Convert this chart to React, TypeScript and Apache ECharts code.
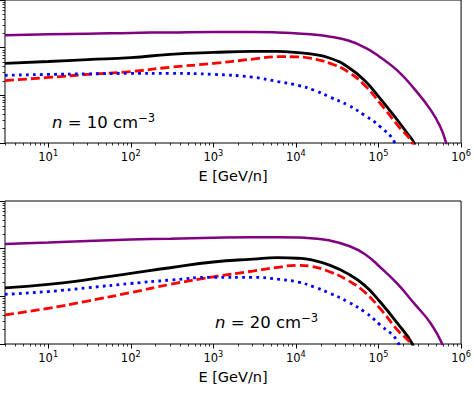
import React, { useEffect, useRef } from "react";
import * as echarts from "echarts";

// Energy range [GeV/n] and relative (arbitrary-unit) y range, log axes
const xMin = 3;
const xMax = 1e6;
const yMin = 1;
const yMax = 1000;
const xMajorTicks = [10, 100, 1000, 10000, 100000, 1000000];
const yMajorTicks = [1, 10, 100, 1000];

// Upper panel, n = 10 cm^-3  ([E, value])
const topPurple: [number, number][] = [
  [3, 182], [10, 192], [30, 195], [100, 204], [300, 209], [1000, 214], [3000, 214], [6000, 209],
  [10500, 199], [15000, 191], [26000, 170], [43000, 141], [68000, 101], [105000, 63], [170000, 33],
  [270000, 13.8], [430000, 4.9], [560000, 2.19], [660000, 1.0], [740000, 0.4],
];
const topBlack: [number, number][] = [
  [3, 46.8], [10, 51.3], [30, 56.2], [100, 61.7], [300, 72.4], [1000, 79.4], [3000, 83.2],
  [6000, 83.2], [10500, 79], [15000, 74], [26000, 60], [43000, 38.9], [68000, 20.4], [105000, 8.5],
  [170000, 3.0], [224000, 1.58], [270000, 1.0], [300000, 0.5],
];
const topRed: [number, number][] = [
  [3, 20.4], [10, 23.7], [30, 27.5], [100, 31.6], [300, 38.9], [1000, 46.8], [3000, 57.5],
  [6000, 64.6], [10500, 64], [15000, 60], [26000, 46.8], [43000, 30.9], [68000, 16.2],
  [105000, 6.76], [170000, 2.37], [257000, 1.0], [285000, 0.5],
];
const topBlue: [number, number][] = [
  [3, 26.3], [10, 27.5], [30, 28.2], [100, 28.8], [300, 28.8], [1000, 27.5], [3000, 24.0],
  [6000, 19.5], [10500, 16.2], [17000, 12.6], [26000, 9.1], [43000, 6.2], [68000, 3.8],
  [105000, 2.19], [155000, 1.07], [175000, 0.5],
];

// Lower panel, n = 20 cm^-3
const botPurple: [number, number][] = [
  [3, 126], [10, 135], [30, 145], [100, 155], [300, 162], [1000, 170], [3000, 174], [6000, 174],
  [10500, 172], [15000, 166], [26000, 148], [43000, 115], [68000, 77.6], [105000, 40.7],
  [170000, 18.2], [270000, 7.1], [430000, 2.7], [590000, 1.0], [660000, 0.5],
];
const botBlack: [number, number][] = [
  [3, 15.1], [10, 17.8], [30, 22.4], [100, 30.2], [300, 39.8], [1000, 52.5], [3000, 60.3],
  [6000, 64.6], [10500, 63], [15000, 58.9], [26000, 44.7], [43000, 29.5], [68000, 17],
  [105000, 7.6], [170000, 2.7], [257000, 1.0], [285000, 0.5],
];
const botRed: [number, number][] = [
  [3, 4.07], [10, 5.62], [30, 7.94], [100, 12.0], [300, 17.8], [1000, 25.7], [3000, 33.9],
  [6000, 40.7], [10500, 44.7], [15000, 42.7], [26000, 32.4], [43000, 21.4], [68000, 12.3],
  [105000, 5.5], [170000, 1.95], [245000, 1.0], [270000, 0.5],
];
const botBlue: [number, number][] = [
  [3, 11.0], [10, 12.6], [30, 15.1], [100, 18.6], [300, 21.9], [1000, 25.1], [3000, 25.1],
  [6000, 22.9], [10500, 20], [17000, 15.5], [26000, 11.5], [43000, 7.6], [68000, 4.7],
  [105000, 2.5], [170000, 1.12], [190000, 0.5],
];

const FONT = "DejaVu Sans";

function minorTicks(lo: number, hi: number): number[] {
  const out: number[] = [];
  for (let d = 1; d < hi; d *= 10) {
    for (let k = 2; k <= 9; k++) {
      const v = k * d;
      if (v >= lo && v <= hi) out.push(v);
    }
  }
  return out;
}

export default function App() {
  const ref = useRef<HTMLDivElement>(null);
  useEffect(() => {
    if (!ref.current) return;
    const chart = echarts.init(ref.current, undefined, { renderer: "svg" });
    const xMinor = minorTicks(xMin, xMax);
    const yMinor = minorTicks(yMin, yMax);

    const xMain = (gi: number) => ({
      type: "log", gridIndex: gi, min: xMin, max: xMax, logBase: 10, position: "bottom",
      axisLine: { show: false },
      axisTick: { show: true, length: 4.5, lineStyle: { color: "#000", width: 1 }, customValues: xMajorTicks },
      axisLabel: {
        customValues: xMajorTicks, color: "#000", margin: 6,
        formatter: (v: number) => "{b|10}{s|" + Math.round(Math.log10(v)) + "}",
        rich: {
          b: { fontFamily: FONT, fontSize: 11.5, lineHeight: 15, color: "#000" },
          s: { fontFamily: FONT, fontSize: 8.2, lineHeight: 9, verticalAlign: "top", color: "#000" },
        },
      },
      splitLine: { show: false },
      name: "E [GeV/n]", nameLocation: "middle", nameGap: 25,
      nameTextStyle: { color: "#000", fontFamily: FONT, fontSize: 14.5 },
    });
    const xMinorAxis = (gi: number) => ({
      type: "log", gridIndex: gi, min: xMin, max: xMax, logBase: 10, position: "bottom",
      axisLine: { show: false }, axisLabel: { show: false }, splitLine: { show: false },
      axisTick: { show: true, length: 2.5, lineStyle: { color: "#000", width: 0.8 }, customValues: xMinor },
    });
    const yMain = (gi: number) => ({
      type: "log", gridIndex: gi, min: yMin, max: yMax, logBase: 10, position: "left",
      axisLine: { show: false }, axisLabel: { show: false }, splitLine: { show: false },
      axisTick: { show: true, length: 5, lineStyle: { color: "#000", width: 1 }, customValues: yMajorTicks },
    });
    const yMinorAxis = (gi: number) => ({
      type: "log", gridIndex: gi, min: yMin, max: yMax, logBase: 10, position: "left",
      axisLine: { show: false }, axisLabel: { show: false }, splitLine: { show: false },
      axisTick: { show: true, length: 2.5, lineStyle: { color: "#000", width: 0.8 }, customValues: yMinor },
    });

    const mk = (data: [number, number][], gi: number, color: string, width: number, dash?: number[]) => ({
      type: "line", data, xAxisIndex: gi * 2, yAxisIndex: gi * 2, showSymbol: false, symbol: "none",
      smooth: 0.5, clip: true, silent: true,
      lineStyle: { color, width, type: dash ?? "solid", cap: "butt" },
    });

    const label = (txt: string) => ({
      text: "{i|n}{r| = " + txt + " cm}{s|−3}",
      fill: "#000",
      rich: {
        i: { fontStyle: "italic", fontFamily: FONT, fontSize: 16.5, lineHeight: 20 },
        r: { fontFamily: FONT, fontSize: 16.5, lineHeight: 20 },
        s: { fontFamily: FONT, fontSize: 11.5, lineHeight: 12, verticalAlign: "top" },
      },
    });

    chart.setOption({
      animation: false,
      backgroundColor: "#fff",
      grid: [
        { left: 5, right: 9, top: -1, height: 144, show: true, borderColor: "#000", borderWidth: 1, backgroundColor: "transparent" },
        { left: 5, right: 9, top: 201, height: 143, show: true, borderColor: "#000", borderWidth: 1, backgroundColor: "transparent" },
      ],
      xAxis: [xMain(0), xMinorAxis(0), xMain(1), xMinorAxis(1)],
      yAxis: [yMain(0), yMinorAxis(0), yMain(1), yMinorAxis(1)],
      series: [
        mk(topPurple, 0, "#800080", 2.5),
        mk(topBlack, 0, "#000000", 2.8),
        mk(topRed, 0, "#ff0000", 2.8, [9, 4]),
        mk(topBlue, 0, "#0000ff", 2.8, [2.8, 4.2]),
        mk(botPurple, 1, "#800080", 2.5),
        mk(botBlack, 1, "#000000", 2.8),
        mk(botRed, 1, "#ff0000", 2.8, [9, 4]),
        mk(botBlue, 1, "#0000ff", 2.8, [2.8, 4.2]),
      ],
      graphic: [
        { type: "text", left: 52, top: 112, style: label("10") },
        { type: "text", left: 215, top: 312, style: label("20") },
      ],
    });
    return () => chart.dispose();
  }, []);
  return <div ref={ref} style={{ position: "absolute", left: 0, top: 0, width: 474, height: 399 }} />;
}
